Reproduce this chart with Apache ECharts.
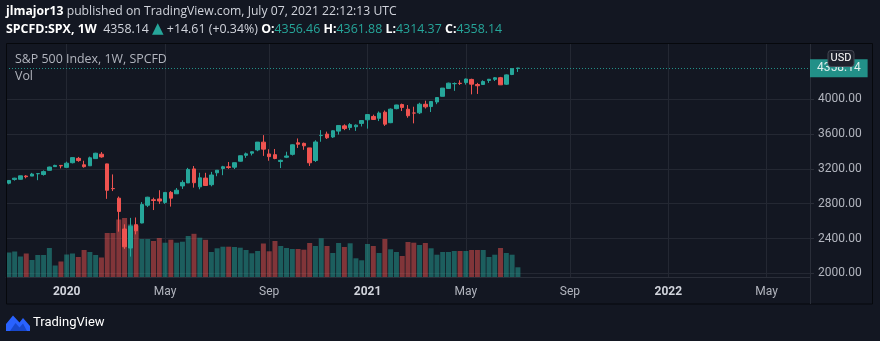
<!DOCTYPE html>
<html><head><meta charset="utf-8">
<script src="https://cdn.jsdelivr.net/npm/echarts@6/dist/echarts.min.js"></script>
<style>html,body{margin:0;padding:0;background:#131722;}#c{width:880px;height:341px;}</style>
</head><body><div id="c"></div>
<script>
// ---- data ----
const weeks = [
'2019-10-28','2019-11-04','2019-11-11','2019-11-18','2019-11-25','2019-12-02','2019-12-09','2019-12-16','2019-12-23','2019-12-30',
'2020-01-06','2020-01-13','2020-01-20','2020-01-27','2020-02-03','2020-02-10','2020-02-17','2020-02-24','2020-03-02','2020-03-09',
'2020-03-16','2020-03-23','2020-03-30','2020-04-06','2020-04-13','2020-04-20','2020-04-27','2020-05-04','2020-05-11','2020-05-18',
'2020-05-25','2020-06-01','2020-06-08','2020-06-15','2020-06-22','2020-06-29','2020-07-06','2020-07-13','2020-07-20','2020-07-27',
'2020-08-03','2020-08-10','2020-08-17','2020-08-24','2020-08-31','2020-09-07','2020-09-14','2020-09-21','2020-09-28','2020-10-05',
'2020-10-12','2020-10-19','2020-10-26','2020-11-02','2020-11-09','2020-11-16','2020-11-23','2020-11-30','2020-12-07','2020-12-14',
'2020-12-21','2020-12-28','2021-01-04','2021-01-11','2021-01-18','2021-01-25','2021-02-01','2021-02-08','2021-02-15','2021-02-22',
'2021-03-01','2021-03-08','2021-03-15','2021-03-22','2021-03-29','2021-04-05','2021-04-12','2021-04-19','2021-04-26','2021-05-03',
'2021-05-10','2021-05-17','2021-05-24','2021-05-31','2021-06-07','2021-06-14','2021-06-21','2021-06-28','2021-07-05'];
const open = [3035.4,3078.9,3080.3,3117.9,3117.4,3143.9,3135.4,3183.6,3226.1,3240.1,
3217.6,3271.1,3321.0,3247.2,3235.7,3318.3,3369.0,3257.6,2974.3,2863.9,
2508.6,2290.7,2559.0,2578.3,2782.5,2845.6,2854.7,2815.0,2930.2,2913.9,
3004.1,3038.8,3199.9,2993.8,3094.4,3018.6,3155.3,3205.1,3224.3,3219.8,
3288.3,3356.0,3380.9,3418.1,3507.4,3371.9,3363.6,3285.6,3333.9,3367.3,
3500.0,3493.7,3441.4,3296.2,3583.0,3600.2,3566.8,3634.2,3694.7,3675.3,
3684.3,3723.0,3764.6,3803.1,3781.9,3851.7,3731.2,3892.6,3939.6,3885.6,
3842.5,3844.4,3943.0,3916.5,3969.3,4034.4,4124.7,4179.8,4185.0,4192.0,
4228.3,4169.9,4170.2,4216.5,4229.3,4248.3,4173.4,4284.9,4356.46];
const high = [3067.0,3097.8,3120.5,3127.6,3154.3,3150.6,3182.7,3225.7,3247.9,3244.7,
3283.0,3329.9,3337.8,3293.5,3341.4,3385.1,3393.5,3259.8,3136.7,2882.6,
2563.0,2637.0,2641.4,2818.6,2879.2,2869.0,2954.9,2934.3,2945.8,2980.3,
3068.7,3211.7,3233.1,3155.5,3155.0,3165.8,3186.8,3235.3,3279.3,3272.0,
3352.5,3387.9,3399.5,3509.2,3588.1,3425.6,3429.0,3306.9,3397.2,3482.3,
3549.9,3502.4,3441.4,3529.0,3646.0,3628.5,3644.3,3699.2,3712.4,3726.7,
3711.2,3760.2,3826.7,3823.6,3859.8,3870.9,3894.6,3937.0,3950.4,3934.0,
3914.5,3960.3,3983.9,3978.2,4020.6,4129.5,4191.3,4194.2,4218.8,4238.0,
4236.4,4188.7,4218.4,4234.1,4255.8,4257.2,4286.1,4355.0,4361.88];
const low = [3023.2,3065.0,3075.8,3091.4,3117.4,3070.3,3123.0,3183.6,3222.0,3206.0,
3214.6,3263.5,3281.5,3214.7,3233.1,3317.8,3328.5,2855.8,2945.2,2478.9,
2280.5,2191.9,2447.5,2574.6,2761.3,2727.1,2798.0,2797.9,2766.6,2913.9,
2969.8,3038.8,2984.5,2965.7,3007.4,2999.7,3115.7,3127.7,3200.8,3198.6,
3284.5,3327.0,3354.7,3403.3,3349.6,3293.6,3310.8,3209.5,3323.7,3354.0,
3440.5,3419.9,3233.9,3279.7,3511.9,3543.8,3555.6,3594.4,3645.2,3645.8,
3636.5,3687.7,3662.7,3764.0,3749.7,3694.1,3725.6,3884.9,3865.0,3788.0,
3723.3,3830.4,3894.0,3853.5,3944.0,4034.4,4118.4,4097.0,4165.0,4168.6,
4056.9,4061.4,4170.2,4188.7,4210.0,4164.4,4165.0,4278.0,4314.37];
const close = [3066.9,3093.1,3120.5,3110.3,3141.0,3145.9,3168.8,3221.2,3240.0,3234.9,
3265.4,3329.6,3295.5,3225.5,3327.7,3380.2,3337.8,2954.2,2972.4,2711.0,
2304.9,2541.5,2488.7,2789.8,2874.6,2836.7,2830.7,2929.8,2863.7,2955.5,
3044.3,3193.9,3041.3,3097.7,3009.1,3130.0,3185.0,3224.7,3215.6,3271.1,
3351.3,3372.9,3397.2,3508.0,3427.0,3341.0,3319.5,3298.5,3348.4,3477.1,
3483.8,3465.4,3270.0,3509.4,3585.2,3557.5,3638.4,3699.1,3663.5,3709.4,
3703.1,3756.1,3824.7,3768.3,3841.5,3714.2,3886.8,3934.8,3906.7,3811.2,
3841.9,3943.3,3913.1,3974.5,4019.9,4128.8,4185.5,4180.2,4181.2,4232.6,
4173.9,4155.9,4204.1,4229.9,4247.4,4166.5,4280.7,4352.3,4358.14];
const volume = [245,255,205,235,170,220,220,290,115,155,
225,235,200,270,250,220,195,440,440,575,
590,525,515,380,380,360,390,343,373,343,
353,410,432,393,372,250,287,303,303,300,
293,270,237,260,335,257,360,310,290,280,
280,273,340,310,387,310,240,340,300,337,
187,167,330,310,240,380,277,250,210,350,
343,320,340,287,223,250,250,260,260,260,
270,270,270,200,223,290,240,223,97];
const axisEndWeek = '2022-06-20';
const tickDates = ['2020-01-06','2020-05-04','2020-09-07','2021-01-04','2021-05-03','2021-09-06','2022-01-03','2022-05-02'];
const tickLabels = ['2020','May','Sep','2021','May','Sep','2022','May'];
const priceTicks = [2000,2400,2800,3200,3600,4000];
const priceChange = '+14.61 (+0.34%)';

// ---- build ----
const cats = weeks.slice();
{
  let d = new Date(weeks[weeks.length-1] + 'T00:00:00Z');
  while (true) {
    d = new Date(d.getTime() + 7*86400000);
    const s = d.toISOString().slice(0,10);
    if (s > axisEndWeek) break;
    cats.push(s);
  }
}
const UP = '#26a69a', DOWN = '#ef5350';
const candles = weeks.map((w,i)=>[open[i], close[i], low[i], high[i]]);
const vols = weeks.map((w,i)=>({value: volume[i], itemStyle:{color: close[i] >= open[i] ? 'rgba(38,166,154,0.5)' : 'rgba(239,83,80,0.5)'}}));
const tickSet = new Set(tickDates);
const tickFn = (idx, val) => tickSet.has(cats[idx]);
const n = weeks.length - 1;
const lastClose = close[n];
const FONT = 'Roboto';
const HFONT = '"Open Sans"';

const chart = echarts.init(document.getElementById('c'), null, {renderer:'canvas'});
chart.setOption({
  backgroundColor: '#131722',
  animation: false,
  textStyle: {fontFamily: FONT},
  grid: {left: 6, right: 70, top: 44, bottom: 64},
  xAxis: {
    type: 'category', data: cats, boundaryGap: true,
    axisLine: {show: true, lineStyle: {color: '#2a2e39'}},
    axisTick: {show: false, interval: tickFn, alignWithLabel: true},
    axisLabel: {
      interval: tickFn, margin: 9, color: '#b2b5be', fontSize: 12, fontFamily: FONT,
      formatter: v => { const t = tickLabels[tickDates.indexOf(v)]; return /^\d{4}$/.test(t) ? '{y|' + t + '}' : t; },
      rich: {y: {color: '#d1d4dc', fontWeight: 'bold', fontSize: 12, fontFamily: FONT}}
    },
    splitLine: {show: true, interval: tickFn, alignWithLabel: true, lineStyle: {color: '#242833', width: 1}}
  },
  yAxis: [{
    type: 'value', position: 'right', min: 1957.5, max: 4635.6,
    axisLine: {show: true, lineStyle: {color: '#2a2e39'}},
    axisTick: {show: true, length: 4, customValues: priceTicks, lineStyle: {color: '#2a2e39'}},
    axisLabel: {customValues: priceTicks, margin: 8, color: '#b2b5be', fontSize: 12, fontFamily: FONT, formatter: v => v.toFixed(2)},
    splitLine: {show: true, lineStyle: {color: '#242833'}}
  }, {
    type: 'value', min: 0, max: 2330, show: false, splitLine: {show: false}
  }],
  series: [{
    type: 'bar', name: 'Vol', xAxisIndex: 0, yAxisIndex: 1, data: vols, barWidth: 5, barGap: '-100%'
  }, {
    type: 'candlestick', name: 'SPX', xAxisIndex: 0, yAxisIndex: 0, data: candles, barWidth: 4,
    itemStyle: {color: UP, color0: DOWN, borderColor: UP, borderColor0: DOWN, borderWidth: 1},
    markLine: {
      symbol: 'none', silent: true, animation: false,
      lineStyle: {color: UP, type: [1, 2], width: 1, opacity: 0.85},
      label: {position: 'end', distance: 0, formatter: lastClose.toFixed(2), backgroundColor: UP, color: '#ffffff',
              padding: [3, 7, 3, 7], fontSize: 12, fontFamily: FONT},
      data: [{yAxis: lastClose}]
    }
  }],
  graphic: [
    {type: 'rect', shape: {x: 6.5, y: 43.5, width: 866, height: 260.5}, style: {fill: 'none', stroke: '#06080c', lineWidth: 1}, z: 50},
    {type: 'line', shape: {x1: 810.5, y1: 277, x2: 810.5, y2: 304}, style: {stroke: '#2a2e39', lineWidth: 1}, z: 50},
    {type: 'text', left: 6, top: 6, style: {
      text: '{b|jlmajor13} published on TradingView.com, July 07, 2021 22:12:13 UTC',
      fill: '#d1d4dc', font: '12.2px ' + HFONT,
      rich: {b: {fill: '#ffffff', fontWeight: 'bold', fontSize: 12.2, fontFamily: HFONT}}
    }, z: 60},
    {type: 'text', left: 6, top: 22, style: {
      text: '{b|SPCFD:SPX, 1W}  ' + lastClose.toFixed(2) + ' {t|▲} ' + priceChange + ' {b|O:}{g|' + open[n].toFixed(2) + '} {b|H:}{g|' + high[n].toFixed(2) + '} {b|L:}{g|' + low[n].toFixed(2) + '} {b|C:}{g|' + close[n].toFixed(2) + '}',
      fill: '#d1d4dc', font: '12.4px ' + HFONT,
      rich: {b: {fill: '#ffffff', fontWeight: 'bold', fontSize: 12.4, fontFamily: HFONT},
             g: {fill: UP, fontSize: 12.4, fontFamily: HFONT},
             t: {fill: UP, fontSize: 15, fontFamily: '"DejaVu Sans"'}}
    }, z: 60},
    {type: 'text', left: 15, top: 53, style: {text: 'S&P 500 Index, 1W, SPCFD', fill: '#b2b5be', font: '12.4px ' + HFONT}, z: 60},
    {type: 'text', left: 15, top: 70, style: {text: 'Vol', fill: '#b2b5be', font: '12.4px ' + HFONT}, z: 60},
    {type: 'rect', shape: {x: 828, y: 50.5, width: 26, height: 16, r: 3}, style: {fill: '#1e222d', stroke: '#434651', lineWidth: 1}, z: 70},
    {type: 'text', x: 841, y: 58.5, style: {text: 'USD', fill: '#ffffff', font: '11px ' + FONT, align: 'center', verticalAlign: 'middle'}, z: 71},
    {type: 'polygon', shape: {points: [[6,331],[6,324],[13,315.5],[19.5,322.5],[23,318],[30,326],[30,331]]}, style: {fill: '#2962ff'}, z: 60},
    {type: 'polygon', shape: {points: [[10,331],[15.5,323],[19.5,327.5],[23,323.5],[27,331]]}, style: {fill: '#1848cc'}, z: 61},
    {type: 'text', left: 33, top: 316, style: {text: 'TradingView', fill: '#ffffff', font: '13px ' + FONT}, z: 60}
  ]
});
</script></body></html>
